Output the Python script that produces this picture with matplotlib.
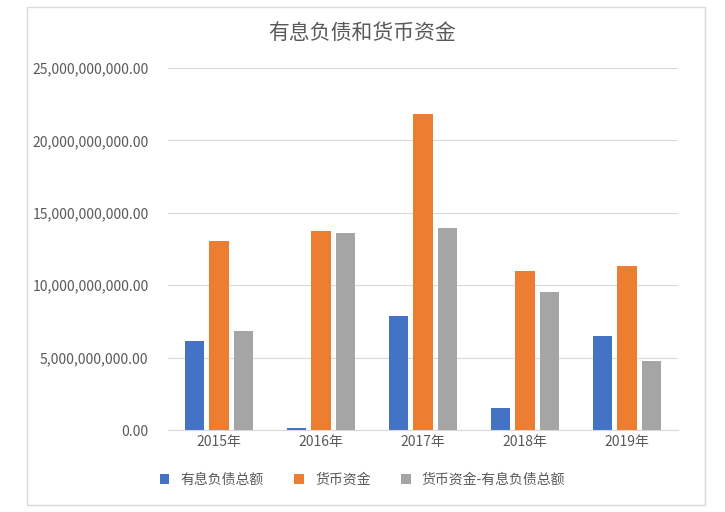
import numpy as np
import matplotlib.pyplot as plt
from matplotlib.patches import Rectangle
from matplotlib.ticker import FuncFormatter

plt.rcParams['font.family'] = ['Noto Sans CJK SC', 'DejaVu Sans']

years = ['2015年', '2016年', '2017年', '2018年', '2019年']
debt = [6.15e9, 0.14e9, 7.87e9, 1.52e9, 6.50e9]
cash = [13.05e9, 13.74e9, 21.80e9, 10.98e9, 11.33e9]
diff = [6.84e9, 13.60e9, 13.95e9, 9.53e9, 4.77e9]

fig = plt.figure(figsize=(7.25, 5.12), dpi=100)
fig.patches.append(Rectangle((27 / 725, 7 / 512), 678 / 725, 498 / 512, transform=fig.transFigure,
                             fill=False, edgecolor='#d9d9d9', linewidth=1))
ax = fig.add_axes([168 / 725, 1 - 430 / 512, 510 / 725, 362 / 512])

x = np.arange(len(years))
w = 0.19
gap = 0.24
ax.bar(x - gap, debt, w, color='#4472c4', label='有息负债总额')
ax.bar(x, cash, w, color='#ed7d31', label='货币资金')
ax.bar(x + gap, diff, w, color='#a5a5a5', label='货币资金-有息负债总额')

ax.set_ylim(0, 25e9)
ax.set_xlim(-0.5, 4.5)
ax.set_yticks(np.arange(0, 25e9 + 1, 5e9))
ax.yaxis.set_major_formatter(FuncFormatter(lambda v, p: '{:,.2f}'.format(v)))
ax.set_xticks(x)
ax.set_xticklabels(years)
ax.grid(axis='y', color='#d9d9d9', linewidth=0.8)
ax.set_axisbelow(True)
for s in ['top', 'right', 'left']:
    ax.spines[s].set_visible(False)
ax.spines['bottom'].set_color('#d9d9d9')
ax.tick_params(length=0, colors='#595959', labelsize=10)
ax.tick_params(axis='y', pad=14)

fig.text(0.5, 1 - 33 / 512, '有息负债和货币资金', ha='center', va='center', fontsize=15, color='#595959')
fig.legend(loc='center', bbox_to_anchor=(0.5, 1 - 480 / 512), ncol=3, frameon=False,
           fontsize=10, handlelength=0.7, handleheight=0.7, columnspacing=2.2, labelcolor='#595959')

fig.savefig('out.png', dpi=100)
